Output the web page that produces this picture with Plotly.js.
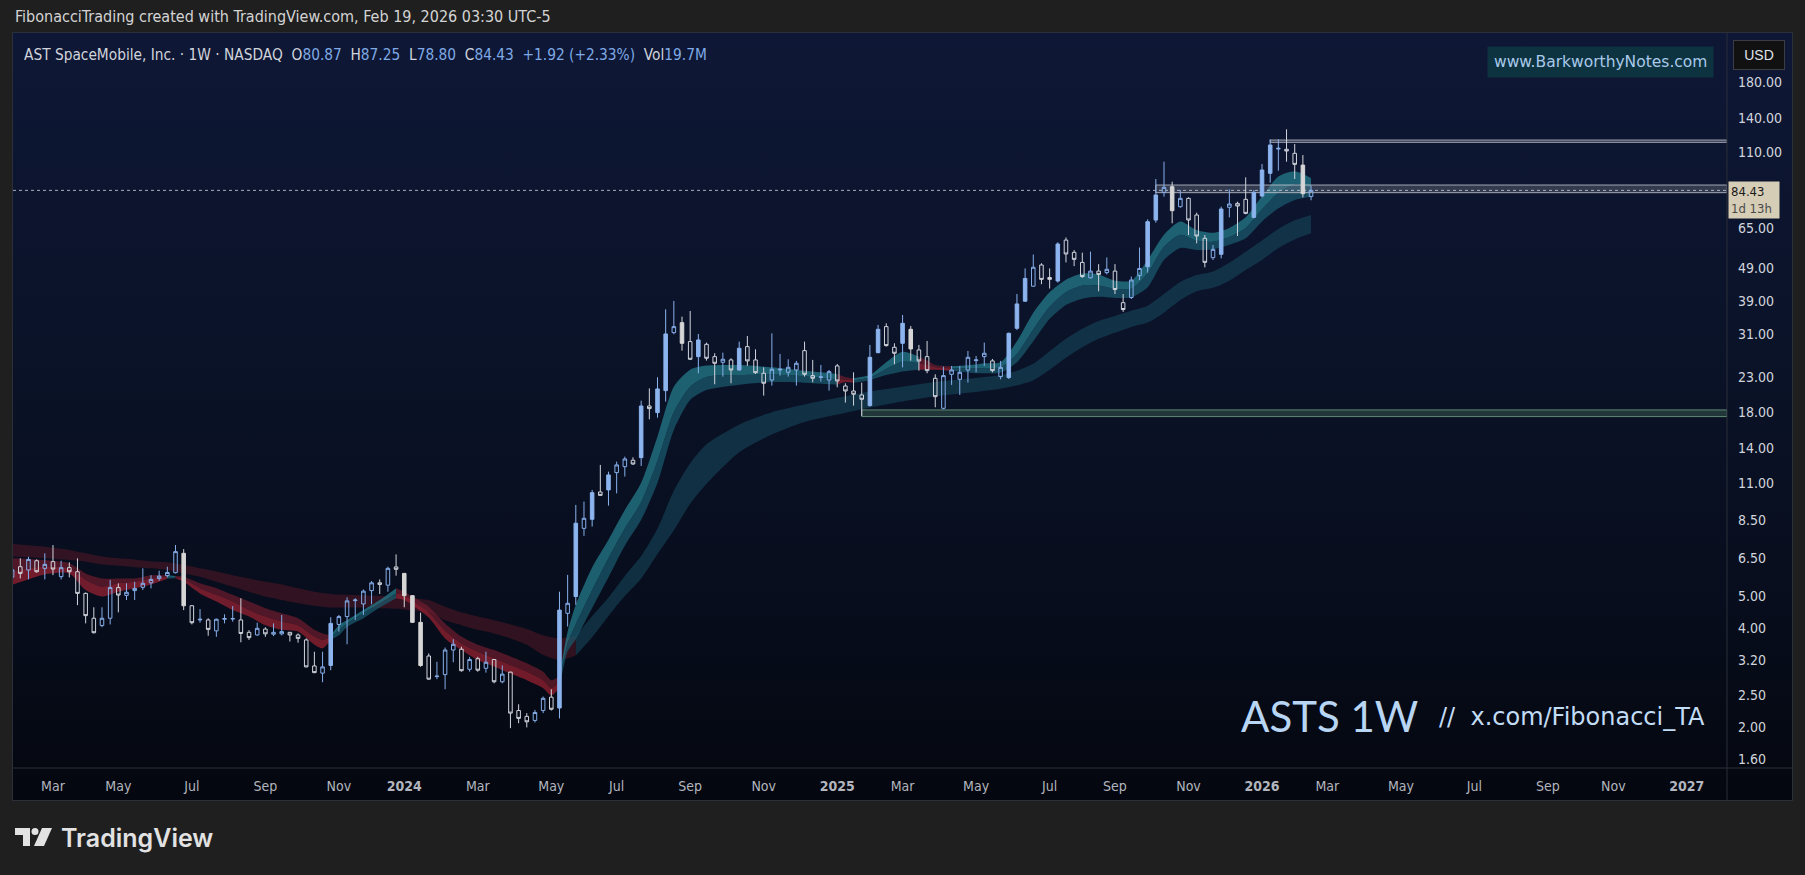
<!DOCTYPE html>
<html><head><meta charset="utf-8">
<script src="https://cdn.plot.ly/plotly-3.0.1.min.js"></script>
<style>
html,body{margin:0;padding:0;background:#1f1f1f;width:1805px;height:875px;overflow:hidden;}
#panel{position:absolute;left:13px;top:33px;width:1779px;height:767px;background:linear-gradient(to bottom,#0e1735 0%,#0b1329 40%,#070d1c 75%,#04070f 100%);box-shadow:0 0 0 1px #2b2f3a;}
#chart{position:absolute;left:0;top:0;width:1805px;height:875px;}
</style></head><body>
<div id="panel"></div><div id="chart"></div>
<script>
// ---------- weekly bars (Monday dates) ----------
const dates = [
'2023-01-30','2023-02-06','2023-02-13','2023-02-20','2023-02-27','2023-03-06','2023-03-13','2023-03-20','2023-03-27','2023-04-03',
'2023-04-10','2023-04-17','2023-04-24','2023-05-01','2023-05-08','2023-05-15','2023-05-22','2023-05-29','2023-06-05','2023-06-12',
'2023-06-19','2023-06-26','2023-07-03','2023-07-10','2023-07-17','2023-07-24','2023-07-31','2023-08-07','2023-08-14','2023-08-21',
'2023-08-28','2023-09-04','2023-09-11','2023-09-18','2023-09-25','2023-10-02','2023-10-09','2023-10-16','2023-10-23','2023-10-30',
'2023-11-06','2023-11-13','2023-11-20','2023-11-27','2023-12-04','2023-12-11','2023-12-18','2023-12-25','2024-01-01','2024-01-08',
'2024-01-15','2024-01-22','2024-01-29','2024-02-05','2024-02-12','2024-02-19','2024-02-26','2024-03-04','2024-03-11','2024-03-18',
'2024-03-25','2024-04-01','2024-04-08','2024-04-15','2024-04-22','2024-04-29','2024-05-06','2024-05-13','2024-05-20','2024-05-27',
'2024-06-03','2024-06-10','2024-06-17','2024-06-24','2024-07-01','2024-07-08','2024-07-15','2024-07-22','2024-07-29','2024-08-05',
'2024-08-12','2024-08-19','2024-08-26','2024-09-02','2024-09-09','2024-09-16','2024-09-23','2024-09-30','2024-10-07','2024-10-14',
'2024-10-21','2024-10-28','2024-11-04','2024-11-11','2024-11-18','2024-11-25','2024-12-02','2024-12-09','2024-12-16','2024-12-23',
'2024-12-30','2025-01-06','2025-01-13','2025-01-20','2025-01-27','2025-02-03','2025-02-10','2025-02-17','2025-02-24','2025-03-03',
'2025-03-10','2025-03-17','2025-03-24','2025-03-31','2025-04-07','2025-04-14','2025-04-21','2025-04-28','2025-05-05','2025-05-12',
'2025-05-19','2025-05-26','2025-06-02','2025-06-09','2025-06-16','2025-06-23','2025-06-30','2025-07-07','2025-07-14','2025-07-21',
'2025-07-28','2025-08-04','2025-08-11','2025-08-18','2025-08-25','2025-09-01','2025-09-08','2025-09-15','2025-09-22','2025-09-29',
'2025-10-06','2025-10-13','2025-10-20','2025-10-27','2025-11-03','2025-11-10','2025-11-17','2025-11-24','2025-12-01','2025-12-08',
'2025-12-15','2025-12-22','2025-12-29','2026-01-05','2026-01-12','2026-01-19','2026-01-26','2026-02-02','2026-02-09','2026-02-16'];

const open = [
5.70,6.13,5.99,6.39,6.06,6.35,5.72,6.09,5.92,5.09, 4.28,4.07,4.28,5.30,5.02,5.19,5.31,5.48,5.65,5.76,
5.88,6.73,4.67,4.23,4.23,3.92,4.25,4.26,4.23,3.88, 3.81,3.97,3.83,3.84,3.88,3.81,3.68,3.07,2.92,3.08,
4.10,4.33,4.84,4.73,5.19,5.48,5.39,6.12,5.85,5.01, 4.16,3.29,2.85,2.89,3.43,3.45,3.00,3.23,3.02,3.21,
2.75,2.94,2.25,2.16,2.10,2.25,2.47,2.29,4.43,4.98, 8.01,8.53,10.32,10.47,11.81,12.31,12.87,13.11,18.79,17.94,
20.91,31.33,33.59,29.43,26.50,28.88,26.50,25.48,25.90,24.15, 28.42,25.90,23.60,22.52,24.15,23.76,24.15,27.63,23.22,22.95,
22.52,24.84,21.60,20.86,20.29,18.84,27.25,32.67,28.29,29.08, 32.06,27.77,26.50,22.79,18.49,23.43,22.63,24.15,25.78,26.50,
25.72,23.06,22.90,32.29,39.0,43.3,50.2,46.0,44.9,59.7, 54.8,51.1,45.9,48.1,47.6,48.1,38.6,40.0,46.6,49.60,
68.67,83.27,86.63,75.36,79.86,71.11,60.44,52.82,54.07,75.01, 77.12,79.31,69.95,81.17,95.07,112.6,112.4,109.3,100.7,80.87];
const high = [
6.13,6.50,6.57,6.45,6.73,7.13,6.39,6.32,6.50,5.12, 4.62,4.62,5.59,5.46,5.46,5.52,6.06,5.78,5.96,6.13,
7.13,6.93,4.69,4.56,4.28,4.27,4.40,4.66,4.92,3.94, 4.15,4.02,4.13,4.38,3.89,3.85,3.72,3.39,3.39,4.31,
4.38,4.95,4.92,5.23,5.55,5.61,6.13,6.68,5.87,5.03, 4.45,3.35,3.16,3.49,3.70,3.51,3.27,3.27,3.39,3.22,
3.08,2.95,2.35,2.21,2.26,2.48,2.61,5.15,5.79,9.43, 9.65,10.47,12.46,11.89,12.75,13.20,13.14,19.50,21.25,22.95,
36.86,39.07,35.02,36.43,31.04,29.22,27.13,27.25,26.20,29.43, 30.61,27.89,24.60,31.18,27.00,26.02,25.72,29.43,25.90,25.01,
24.15,25.18,22.01,23.76,22.11,28.75,33.05,33.43,29.08,35.43, 32.82,28.75,29.56,23.43,24.72,24.84,24.84,27.57,26.63,29.22,
26.08,25.72,31.33,41.01,49.0,54.0,50.8,49.0,58.8,60.8, 55.7,54.7,55.1,50.5,52.9,50.5,41.0,46.3,56.7,68.99,
91.38,103.1,89.70,84.64,80.42,72.27,61.85,57.69,75.36,85.03, 78.02,92.45,84.64,101.4,120.5,120.5,129.2,116.6,108.0,87.25];
const low = [
5.21,5.65,5.61,5.88,5.61,5.78,5.61,5.69,4.69,4.13, 3.85,4.02,4.10,4.46,4.86,4.86,5.21,5.27,5.56,5.69,
5.85,4.53,4.10,4.15,3.79,3.76,4.13,4.18,3.62,3.68, 3.79,3.76,3.78,3.80,3.64,3.61,3.04,2.92,2.74,2.98,
3.90,3.57,4.23,4.38,4.72,5.07,5.15,5.76,4.62,4.14, 3.05,2.79,2.80,2.61,3.15,2.95,2.95,2.95,2.93,2.72,
2.72,1.99,2.06,2.00,2.07,2.21,2.25,2.13,4.04,4.70, 7.60,8.11,10.04,9.38,10.22,11.49,12.46,12.37,17.12,17.32,
19.37,30.97,27.63,25.90,23.60,25.78,21.86,23.06,22.01,24.04, 24.84,23.49,20.20,21.65,23.22,23.06,21.65,23.06,22.16,22.27,
20.91,21.40,19.24,18.84,17.53,18.71,27.13,28.42,25.12,24.60, 25.78,24.04,23.60,18.62,18.36,21.76,20.29,22.11,23.76,24.84,
23.76,22.63,22.68,31.92,38.9,43.1,43.9,42.6,44.4,51.1, 49.8,45.9,45.7,41.8,47.0,41.0,36.2,39.6,45.2,47.58,
67.41,80.79,67.10,74.83,61.85,58.37,49.38,51.97,52.57,69.95, 61.43,71.43,69.47,80.42,89.08,96.84,103.1,91.38,80.42,78.80];
const close = [
6.00,5.85,6.45,5.92,6.23,6.03,6.09,5.92,5.09,4.36, 3.87,4.28,5.30,5.03,5.13,5.27,5.46,5.61,5.74,5.89,
6.81,4.67,4.15,4.25,3.96,4.25,4.27,4.27,3.85,3.74, 3.99,3.84,3.88,3.90,3.81,3.72,3.05,2.93,3.05,4.13,
4.33,4.83,4.86,5.17,5.48,5.42,6.06,6.02,5.01,4.16, 3.08,2.80,2.86,3.43,3.57,2.97,3.21,2.98,3.15,2.75,
2.90,2.21,2.13,2.08,2.22,2.45,2.27,4.53,4.75,8.30, 8.59,10.27,10.08,11.62,12.46,12.99,12.54,18.79,18.45,21.16,
31.04,32.67,29.08,26.02,29.77,26.20,25.30,26.02,24.15,28.09, 25.72,23.70,22.01,24.27,24.27,24.60,25.30,23.43,22.79,23.00,
23.87,22.37,20.86,20.39,19.69,26.38,32.06,28.62,27.13,33.43, 27.96,25.72,24.04,20.05,23.22,24.15,23.76,26.38,25.90,27.13,
24.04,24.60,31.18,38.26,45.7,49.4,45.4,45.4,58.1,54.2, 52.2,46.3,48.1,47.0,48.7,42.3,36.8,45.2,49.0,67.87,
81.75,86.23,73.28,79.86,68.67,61.43,51.12,55.97,74.14,76.77, 75.70,71.93,83.27,97.30,115.8,113.2,111.1,101.2,82.51,84.43];
// candle style codes: B blue filled, b blue hollow, W grey filled, w white hollow
const candleStyle = ('bwbwbwbwww'+'wbbwbbbbbb'+'bWwbwbbbww'+'bwbbwwwwbB'+'bbbbbwbwWW'+'Wwbbbwbwbw'+'bwwwbbwBbB'+'bBwBbbwBwB'+
  'BbWwBwwbwB'+'wwwbbbbwwb'+'bwwwwBBwwB'+'Wwwwbbbbbb'+'wbBBBbwwBw'+'wwbwbwwbbB'+'BbWbwwwbBb'+'wwBBBbwwWb').split('');

// ---------- moving-average ribbons ----------
const fastBar = [1,5,8,10,12,14,16,18,20,21, 22,24,26,28,30,32,34,36,38,39, 40,41,42,44,46,48,49,50,52,54,
  56,58,60,62,64,66,67,68,69,70, 72,74,76,78,80,82,84,86,90,94, 98,102,103,104,106,108,110,112,113,114,
  116,119,120,122,124,126,128,130,132,134, 136,138,140,142,144,146,148,150,152,154, 156,158,160];
const fastTop = [6.50,6.42,6.28,5.85,5.65,5.65,5.65,5.78,5.78,5.75, 5.73,5.46,5.28,5.04,4.81,4.59,4.43,4.28,3.95,3.85,
  3.80,4.08,4.22,4.53,4.86,5.28,5.15,4.98,4.64,4.13, 3.77,3.56,3.43,3.28,3.13,2.95,2.78,2.85,3.90,4.70,
  6.10,7.40,9.10,11.0,15.2,21.5,24.2,24.9,25.0,24.6, 24.0,23.5,23.0,22.8,23.3,25.5,27.4,26.5,25.8,25.0,
  24.8,25.1,25.3,25.5,29.5,36.0,41.5,45.3,47.3,47.0, 45.0,45.0,52.0,62.0,68.0,64.0,62.8,65.0,70.0,81.0, 93.0,96.5,92.0];
const fastMid = [5.93,6.14,6.06,5.59,5.33,5.46,5.52,5.65,5.72,5.70, 5.64,5.28,5.04,4.81,4.53,4.33,4.18,4.08,3.77,3.68,
  3.75,3.95,4.13,4.43,4.75,5.09,5.04,4.83,4.46,3.92, 3.59,3.39,3.24,3.09,2.95,2.78,2.63,2.75,3.60,4.10,
  5.20,6.50,8.00,9.60,12.8,18.0,21.5,23.0,23.3,23.4, 23.1,22.6,22.6,22.5,22.9,24.3,25.6,25.3,25.0,24.6,
  24.4,24.4,24.5,24.6,27.0,32.0,37.5,41.5,43.5,43.5, 42.5,42.5,47.5,57.0,62.0,59.5,59.0,61.0,65.0,74.0, 83.0,88.0,86.0];
const fastBot = [5.40,5.81,5.85,5.21,4.98,5.15,5.28,5.42,5.64,5.66, 5.52,5.09,4.81,4.53,4.33,4.08,3.95,3.90,3.56,3.47,
  3.68,3.80,4.03,4.28,4.61,4.92,4.86,4.69,4.30,3.72, 3.43,3.20,3.06,2.91,2.78,2.63,2.50,2.63,3.40,3.70,
  4.60,5.70,7.10,8.50,11.0,15.9,19.6,21.0,21.8,22.2, 22.1,21.8,22.2,22.1,22.5,23.3,23.9,24.2,24.2,24.2,
  24.0,23.6,23.6,23.7,25.5,29.5,34.5,38.0,39.7,40.2, 39.9,40.1,43.0,52.0,56.5,55.7,56.0,57.8,60.5,68.0, 74.5,79.0,80.8];
const fastTrend = ('rrrrrrrrrt'+'rrrrrrrrrr'+'rtttttrrrr'+'rrrrrrrrtt'+'tttttttttt'+'ttrrttttrr'+'rttttttttt'+'tttttttttt'+'ttt').split('');

const slowBar = [1,5,8,10,12,14,16,18,20,22, 24,26,28,30,32,34,36,38,40,42, 46,48,50,52,54,56,58,60,62,64,
  66,68,70,72,74,76,78,80,82,84, 86,90,94,98,102,106,110,114,118,122, 124,126,128,130,132,134,136,138,140,142,
  144,146,148,150,152,154,156,158,160];
const slowTop = [7.18,7.04,6.89,6.73,6.58,6.50,6.45,6.37,6.32,6.20, 6.06,5.93,5.78,5.65,5.52,5.42,5.28,5.15,5.07,5.04,
  5.00,4.98,4.92,4.86,4.64,4.46,4.33,4.22,4.10,3.97, 3.80,3.72,3.78,4.35,4.95,5.75,6.60,8.00,10.4,12.6,
  14.4,16.5,18.0,19.0,19.9,20.8,21.5,22.2,22.7,23.3, 24.0,25.2,27.5,30.0,32.2,34.0,35.2,36.5,37.8,41.0,
  44.6,46.8,48.0,51.0,55.0,59.5,64.5,68.5,71.1];
const slowBot = [6.58,6.50,6.42,6.35,6.23,6.17,6.11,6.06,5.99,5.85, 5.72,5.52,5.33,5.15,4.98,4.86,4.75,4.67,4.61,4.61,
  4.59,4.57,4.52,4.46,4.22,4.08,3.95,3.85,3.72,3.56, 3.32,3.20,3.30,3.75,4.35,5.00,5.65,6.70,7.90,9.50,
  10.9,13.6,15.4,16.8,17.7,18.6,19.4,20.1,20.6,21.2, 21.7,22.5,24.2,26.3,28.3,30.0,31.3,32.6,33.6,36.0,
  39.3,41.8,42.8,45.0,48.5,52.0,56.5,60.0,62.6];
const slowTrend = ('rrrrrrrrrr'+'rrrrrrrrrr'+'rrrrrrrrrr'+'rrrttttttt'+'tttttttttt'+'tttttttttt'+'ttttttttt').split('');

// ---------- drawn levels ----------
const zoneStart = ['2025-01-27','2025-10-06','2026-01-12'];
const zoneLow   = [17.45, 83.08, 118.0];
const zoneHigh  = [18.28, 87.64, 119.9];
const lastClose = 84.43;

// ---------- axes ----------
const xRange = ['2023-01-30 18:00','2027-02-07 10:00'];
const yRange = [Math.log10(1.5075), Math.log10(252.8)];
const xTickVals = ['2023-03-06','2023-05-01','2023-07-03','2023-09-04','2023-11-06','2024-01-01','2024-03-04','2024-05-06','2024-07-01','2024-09-02','2024-11-04',
  '2025-01-06','2025-03-03','2025-05-05','2025-07-07','2025-09-01','2025-11-03','2026-01-05','2026-03-02','2026-05-04','2026-07-06','2026-09-07','2026-11-02','2027-01-04'];
const xTickText = ['Mar','May','Jul','Sep','Nov','<b>2024</b>','Mar','May','Jul','Sep','Nov','<b>2025</b>','Mar','May','Jul','Sep','Nov','<b>2026</b>','Mar','May','Jul','Sep','Nov','<b>2027</b>'];
const yTickVals = [1.6,2,2.5,3.2,4,5,6.5,8.5,11,14,18,23,31,39,49,65,110,140,180];
const yTickText = ['1.60','2.00','2.50','3.20','4.00','5.00','6.50','8.50','11.00','14.00','18.00','23.00','31.00','39.00','49.00','65.00','110.00','140.00','180.00'];

const NARROW = "'Liberation Sans Narrow','Arial Narrow','DejaVu Sans Condensed','Liberation Sans',sans-serif";

// ---------- build traces ----------
const traces = [];
function runs(states){
  const out=[]; let s=0;
  for(let i=1;i<=states.length;i++){
    if(i===states.length || states[i]!==states[s]){ out.push([s===0?0:s-1, i-1, states[s]]); s=i; }
  }
  return out;
}
function addBand(bars, upper, lower, states, colors){
  const xs = bars.map(k=>dates[k-1]);
  runs(states).forEach(([a,b,st])=>{
    const xx = xs.slice(a,b+1);
    traces.push({x:xx,y:lower.slice(a,b+1),type:'scatter',mode:'lines',line:{width:0,shape:'spline',smoothing:0.7},hoverinfo:'skip'});
    traces.push({x:xx,y:upper.slice(a,b+1),type:'scatter',mode:'lines',fill:'tonexty',fillcolor:colors[st],line:{width:0,shape:'spline',smoothing:0.7},hoverinfo:'skip'});
  });
}
addBand(slowBar, slowTop, slowBot, slowTrend, {t:'rgba(24,74,94,0.55)', r:'rgba(84,24,38,0.55)'});
addBand(fastBar, fastTop, fastMid, fastTrend, {t:'rgba(38,128,143,0.72)', r:'rgba(108,28,44,0.72)'});
addBand(fastBar, fastMid, fastBot, fastTrend, {t:'rgba(26,90,110,0.72)', r:'rgba(150,34,50,0.75)'});

const zoneFill = ['rgba(90,150,110,0.28)','rgba(140,145,160,0.30)','rgba(140,145,160,0.30)'];
const zoneLine = ['rgba(120,175,140,0.75)','rgba(205,208,218,0.75)','rgba(205,208,218,0.75)'];
zoneStart.forEach((s,i)=>{
  traces.push({x:[s,xRange[1],xRange[1],s,s], y:[zoneLow[i],zoneLow[i],zoneHigh[i],zoneHigh[i],zoneLow[i]],
    type:'scatter',mode:'lines',fill:'toself',fillcolor:zoneFill[i],line:{color:zoneLine[i],width:1},hoverinfo:'skip'});
});
traces.push({x:[xRange[0],xRange[1]],y:[lastClose,lastClose],type:'scatter',mode:'lines',
  line:{color:'rgba(205,210,222,0.8)',width:1,dash:'dot'},hoverinfo:'skip'});

const candleLook = {
  B:{fill:'#8cb4ee',line:'#8cb4ee'},
  b:{fill:'rgba(0,0,0,0)',line:'#86aee9'},
  W:{fill:'#d6d6d6',line:'#d6d6d6'},
  w:{fill:'rgba(0,0,0,0)',line:'#d1d4dc'}
};
Object.keys(candleLook).forEach(code=>{
  const idx = candleStyle.map((c,i)=>c===code?i:-1).filter(i=>i>=0);
  const look = candleLook[code];
  const dir = {line:{color:look.line,width:1},fillcolor:look.fill};
  traces.push({type:'candlestick',xaxis:'x',yaxis:'y2',
    x:idx.map(i=>dates[i]),open:idx.map(i=>open[i]),high:idx.map(i=>high[i]),low:idx.map(i=>low[i]),close:idx.map(i=>close[i]),
    increasing:dir,decreasing:dir,whiskerwidth:0,hoverinfo:'skip',showlegend:false});
});

// ---------- layout helpers (pixel -> paper) ----------
const PX = X => (X-13)/1714;
const PY = Y => (768-Y)/735;
const val = '#7faae6';
const sp = '\u00a0';
const legendText = 'AST SpaceMobile, Inc. · 1W · NASDAQ'+sp+sp+
  'O<span style="color:'+val+'">80.87</span>'+sp+sp+'H<span style="color:'+val+'">87.25</span>'+sp+sp+
  'L<span style="color:'+val+'">78.80</span>'+sp+sp+'C<span style="color:'+val+'">84.43</span>'+sp+sp+
  '<span style="color:'+val+'">+1.92 (+2.33%)</span>'+sp+sp+'Vol<span style="color:'+val+'">19.7M</span>';

const annotations = [
  {xref:'paper',yref:'paper',x:PX(13),y:PY(16),xanchor:'left',yanchor:'middle',showarrow:false,
   text:'FibonacciTrading created with TradingView.com, Feb 19, 2026 03:30 UTC-5',font:{family:NARROW,size:16,color:'#d4d4d4'}},
  {xref:'paper',yref:'paper',x:PX(22),y:PY(55),xanchor:'left',yanchor:'middle',showarrow:false,
   text:legendText,font:{family:NARROW,size:15.3,color:'#d1d4dc'}},
  {xref:'paper',yref:'paper',x:PX(1600),y:PY(62),xanchor:'center',yanchor:'middle',showarrow:false,
   text:'www.BarkworthyNotes.com',font:{family:'DejaVu Sans',size:15.5,color:'#a9c9ea'},bgcolor:'#0d3340',borderpad:6},
  {xref:'paper',yref:'paper',x:PX(1759),y:PY(54.5),xanchor:'center',yanchor:'middle',showarrow:false,
   text:'USD',font:{family:'Liberation Sans',size:14,color:'#e0e3eb'},bgcolor:'#111111',bordercolor:'#3a3d45',borderwidth:1,borderpad:6,width:38},
  {xref:'paper',yref:'y',x:PX(1727.7),y:Math.log10(lastClose),xanchor:'left',yanchor:'top',yshift:9,showarrow:false,
   text:'84.43<br><span style="color:#4a4a4a">1d 13h</span>',align:'left',width:46,
   font:{family:NARROW,size:13,color:'#1a1a1a'},bgcolor:'#d6cdb6',borderpad:2},
  {xref:'paper',yref:'paper',x:PX(1239),y:PY(716),xanchor:'left',yanchor:'middle',showarrow:false,
   text:'ASTS 1W',font:{family:'Lato',size:42,color:'#b8d5f3'}},
  {xref:'paper',yref:'paper',x:PX(1437),y:PY(717),xanchor:'left',yanchor:'middle',showarrow:false,
   text:'//'+sp+sp+'x.com/Fibonacci_TA',font:{family:'DejaVu Sans',size:24,color:'#c2dcf6'}},
  {xref:'paper',yref:'paper',x:PX(59),y:PY(838),xanchor:'left',yanchor:'middle',showarrow:false,
   text:'TradingView',font:{family:'Inter',size:25,weight:600,color:'#e2e2e2'}}
];

function pathP(pts){ return 'M'+pts.map(p=>PX(p[0])+','+PY(p[1])).join(' L')+' Z'; }
const shapes = [
  {type:'line',xref:'paper',yref:'paper',x0:0,x1:PX(1792),y0:0,y1:0,line:{color:'#2a2e39',width:1}},
  {type:'line',xref:'paper',yref:'paper',x0:1,x1:1,y0:1,y1:PY(800),line:{color:'#2a2e39',width:1}},
  // TradingView mark
  {type:'path',xref:'paper',yref:'paper',path:pathP([[15,828],[30,828],[30,846],[23,846],[23,835],[15,835]]),fillcolor:'#e2e2e2',line:{width:0}},
  {type:'circle',xref:'paper',yref:'paper',x0:PX(31.5),x1:PX(38.5),y0:PY(828),y1:PY(835),fillcolor:'#e2e2e2',line:{width:0}},
  {type:'path',xref:'paper',yref:'paper',path:pathP([[42,828],[52,828],[44,846],[34,846]]),fillcolor:'#e2e2e2',line:{width:0}}
];

const layout = {
  width:1805,height:875,margin:{l:13,r:78,t:33,b:107,pad:0},
  paper_bgcolor:'rgba(0,0,0,0)',plot_bgcolor:'rgba(0,0,0,0)',
  showlegend:false,boxgap:0.38,hovermode:false,
  xaxis:{type:'date',range:xRange,showgrid:false,zeroline:false,showline:false,ticks:'',
    tickmode:'array',tickvals:xTickVals,ticktext:xTickText,tickfont:{family:NARROW,size:14,color:'#b2b5be'},
    ticklabelstandoff:8,rangeslider:{visible:false},fixedrange:true},
  yaxis:{type:'log',range:yRange,side:'right',showgrid:false,zeroline:false,showline:false,ticks:'',
    tickmode:'array',tickvals:yTickVals,ticktext:yTickText,tickfont:{family:NARROW,size:14,color:'#d1d4dc'},
    ticklabelstandoff:10,fixedrange:true},
  yaxis2:{type:'log',range:yRange,overlaying:'y',side:'right',visible:false,fixedrange:true},
  annotations:annotations,shapes:shapes
};
Plotly.newPlot('chart',traces,layout,{staticPlot:true,displayModeBar:false});
</script></body></html>
